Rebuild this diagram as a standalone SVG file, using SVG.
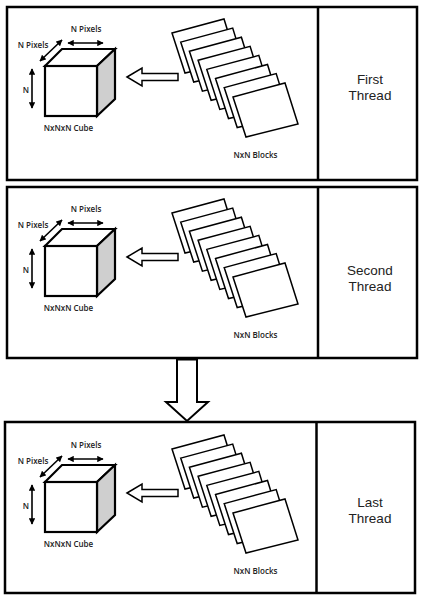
<svg xmlns="http://www.w3.org/2000/svg" xmlns:xlink="http://www.w3.org/1999/xlink" width="424" height="600" viewBox="0 0 424 600">
<style>
.panel{fill:#fff;stroke:#000;stroke-width:2.5}
.div{stroke:#000;stroke-width:2.5}
.blk{fill:#fff;stroke:#000;stroke-width:1.5;stroke-linejoin:miter}
.cube{fill:#fff;stroke:#000;stroke-width:2.2;stroke-linejoin:miter}
.side{fill:#cfcfcf;stroke:#000;stroke-width:2.2}
.dim{stroke:#000;stroke-width:1.6;fill:none;marker-start:url(#ah);marker-end:url(#ah)}
.hollow{fill:#fff;stroke:#000;stroke-width:1.5}
.sm{font-family:"Open Sans","Liberation Sans",sans-serif;font-size:8px;font-weight:600;fill:#222;text-anchor:middle}
.big{font-family:"Liberation Sans",sans-serif;font-size:13.5px;fill:#222;text-anchor:middle}
</style>
<defs>
<marker id="ah" viewBox="0 0 10 10" refX="9" refY="5" markerWidth="4" markerHeight="4" orient="auto-start-reverse" markerUnits="strokeWidth">
<path d="M0,0 L10,5 L0,10 z" fill="#000"/>
</marker>
<g id="content">
<polygon class="blk" points="172,33 224,19 237,61 185,73"/>
<polygon class="blk" points="180.7,42.1 232.7,28.1 245.7,70.1 193.7,82.1"/>
<polygon class="blk" points="189.4,51.2 241.4,37.2 254.4,79.2 202.4,91.2"/>
<polygon class="blk" points="198.1,60.3 250.1,46.3 263.1,88.3 211.1,100.3"/>
<polygon class="blk" points="206.8,69.4 258.8,55.4 271.8,97.4 219.8,109.4"/>
<polygon class="blk" points="215.5,78.5 267.5,64.5 280.5,106.5 228.5,118.5"/>
<polygon class="blk" points="224.2,87.6 276.2,73.6 289.2,115.6 237.2,127.6"/>
<polygon class="blk" points="233,97 285,83 298,124 246,137"/>
<polygon class="hollow" points="127,77 142,68 142,73.5 178,73.5 178,80.5 142,80.5 142,86"/>
<polygon class="cube" points="45,66 62,49 115,49 97,66"/>
<polygon class="side" points="97,66 115,49 115,99 97,116"/>
<rect class="cube" x="45" y="66" width="52" height="50"/>
<line class="dim" x1="68" y1="43" x2="103" y2="43"/>
<line class="dim" x1="40" y1="61" x2="62" y2="40"/>
<line class="dim" x1="32" y1="69" x2="32" y2="108"/>
<text class="sm" x="86" y="32">N Pixels</text>
<text class="sm" x="33" y="48">N Pixels</text>
<text class="sm" x="26" y="93">N</text>
<text class="sm" x="68.5" y="131">NxNxN Cube</text>
<text class="sm" x="255.5" y="158">NxN Blocks</text>
</g>
</defs>
<g id="first-thread">
<rect class="panel" x="7" y="7" width="410" height="173"/>
<line class="div" x1="318" y1="7" x2="318" y2="180"/>
<use xlink:href="#content"/>
<text class="big" x="370" y="84">First</text>
<text class="big" x="370" y="100">Thread</text>
</g>
<g id="second-thread">
<rect class="panel" x="7" y="187" width="410" height="171"/>
<line class="div" x1="318" y1="187" x2="318" y2="358"/>
<use xlink:href="#content" transform="translate(0,180)"/>
<text class="big" x="370" y="275">Second</text>
<text class="big" x="370" y="291">Thread</text>
</g>
<g id="last-thread">
<rect class="panel" x="5" y="422" width="410" height="171"/>
<line class="div" x1="316.5" y1="422" x2="316.5" y2="593"/>
<use xlink:href="#content" transform="translate(0,416)"/>
<text class="big" x="370" y="507">Last</text>
<text class="big" x="370" y="523">Thread</text>
</g>
<g id="connectors">
<polygon points="177,359.5 197,359.5 197,402 208,402 187,421 166,402 177,402" fill="#fff" stroke="#000" stroke-width="2" stroke-linejoin="miter"/>
</g>
</svg>
